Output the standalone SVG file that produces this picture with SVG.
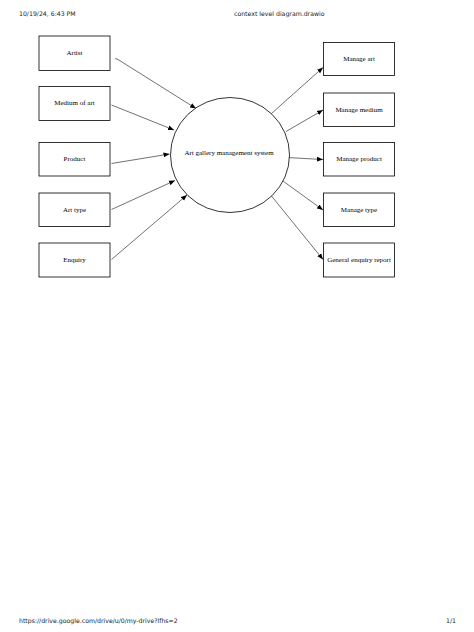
<svg xmlns="http://www.w3.org/2000/svg" width="474" height="632" viewBox="0 0 474 632">
<defs>
<marker id="ah" viewBox="0 0 10 10" refX="10" refY="5" markerWidth="6" markerHeight="6" markerUnits="userSpaceOnUse" orient="auto">
<path d="M0,1 L10,5 L0,9 Z" fill="#000"/>
</marker>
<style>
.box{fill:#fff;stroke:#000;stroke-width:0.8}
.lbl{font-family:"Liberation Serif","Times New Roman",serif;font-size:7px;fill:#000;text-anchor:middle;dominant-baseline:central}
.hdr{font-family:"DejaVu Sans",sans-serif;font-size:6.2px;fill:#222}
.con{fill:none;stroke:#111;stroke-width:0.6;marker-end:url(#ah)}
</style>
</defs>
<rect width="474" height="632" fill="#fff"/>
<text class="hdr" x="19" y="16">10/19/24, 6:43 PM</text>
<text class="hdr" x="234" y="16">context level diagram.drawio</text>
<text class="hdr" x="19" y="623">https://drive.google.com/drive/u/0/my-drive?lfhs=2</text>
<text class="hdr" x="446" y="623">1/1</text>

<g id="connectors">
<path class="con" d="M115,58.5 L118,59.5 L196,108.5"/>
<path class="con" d="M111.5,105 L174,130"/>
<path class="con" d="M111.5,163.5 L169.5,154"/>
<path class="con" d="M111.5,209.5 L175,180.5"/>
<path class="con" d="M111.5,259.5 L187,195"/>
<path class="con" d="M271.5,113.5 L323,67.5"/>
<path class="con" d="M286,131.5 L323,110"/>
<path class="con" d="M286.5,157.5 L323,159.5"/>
<path class="con" d="M281.5,180 L323,210"/>
<path class="con" d="M271.5,196 L323,259.5"/>
</g>

<g id="system">
<ellipse cx="230" cy="155" rx="59.5" ry="57.5" fill="#fff" stroke="#000" stroke-width="0.8"/>
<text class="lbl" x="229" y="153">Art gallery management system</text>
</g>

<g id="artist"><rect class="box" x="39" y="36" width="71" height="34.5"/><text class="lbl" x="74.5" y="53">Artist</text></g>
<g id="medium-of-art"><rect class="box" x="39" y="86.5" width="71" height="34"/><text class="lbl" x="74.5" y="103">Medium of art</text></g>
<g id="product"><rect class="box" x="39" y="142.5" width="71" height="33.5"/><text class="lbl" x="74.5" y="159">Product</text></g>
<g id="art-type"><rect class="box" x="39" y="193" width="71" height="33.5"/><text class="lbl" x="74.5" y="210">Art type</text></g>
<g id="enquiry"><rect class="box" x="39" y="243" width="71" height="34"/><text class="lbl" x="74.5" y="260">Enquiry</text></g>

<g id="manage-art"><rect class="box" x="323.5" y="42.5" width="71" height="33"/><text class="lbl" x="359" y="59">Manage art</text></g>
<g id="manage-medium"><rect class="box" x="323.5" y="93" width="71" height="33.5"/><text class="lbl" x="359" y="110">Manage medium</text></g>
<g id="manage-product"><rect class="box" x="323.5" y="142.5" width="71" height="33.5"/><text class="lbl" x="359" y="159">Manage product</text></g>
<g id="manage-type"><rect class="box" x="323.5" y="193" width="71" height="33.5"/><text class="lbl" x="359" y="210">Manage type</text></g>
<g id="general-enquiry-report"><rect class="box" x="323.5" y="243" width="71" height="34"/><text class="lbl" x="359" y="260">General enquiry report</text></g>
</svg>
